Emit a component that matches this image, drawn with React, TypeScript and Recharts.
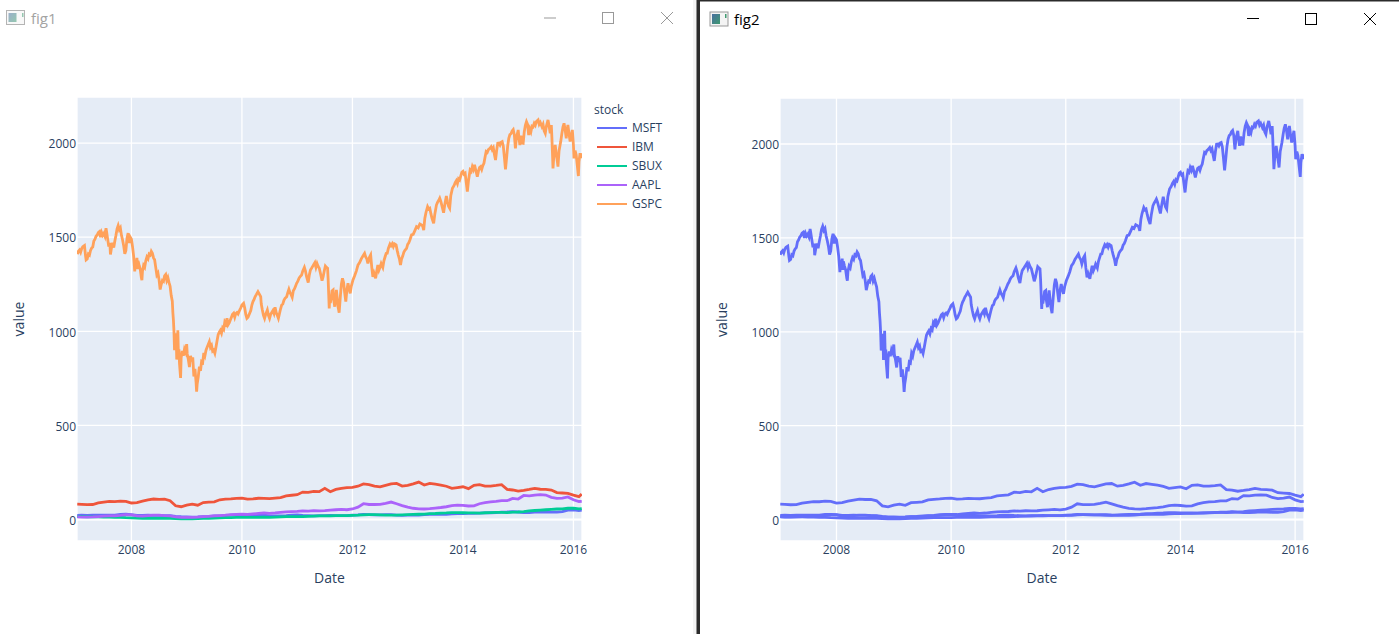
import { CartesianGrid, Legend, Line, LineChart, ReferenceLine, XAxis, YAxis } from "recharts";

const FONT = '"Open Sans", sans-serif';
const INK = "#2a3f5f";

const seriesNames = ["MSFT", "IBM", "SBUX", "AAPL", "GSPC"];
const plotlyColors = ["#636efa", "#EF553B", "#00cc96", "#ab63fa", "#FFA15A"];
const plainColors = ["#636efa", "#636efa", "#636efa", "#636efa", "#636efa"];
const xTicks = [2008, 2010, 2012, 2014, 2016];
const yTicks = [0, 500, 1000, 1500, 2000];

const lowDates = [
  2007.02, 2007.1, 2007.2, 2007.3, 2007.4, 2007.5, 2007.6, 2007.7, 2007.8, 2007.9,
  2008.0, 2008.1, 2008.2, 2008.3, 2008.4, 2008.5, 2008.6, 2008.7, 2008.8, 2008.9,
  2009.0, 2009.1, 2009.2, 2009.3, 2009.4, 2009.5, 2009.6, 2009.7, 2009.8, 2009.9,
  2010.0, 2010.1, 2010.2, 2010.3, 2010.4, 2010.5, 2010.6, 2010.7, 2010.8, 2010.9,
  2011.0, 2011.1, 2011.2, 2011.3, 2011.4, 2011.5, 2011.6, 2011.7, 2011.8, 2011.9,
  2012.0, 2012.1, 2012.2, 2012.3, 2012.4, 2012.5, 2012.6, 2012.7, 2012.8, 2012.9,
  2013.0, 2013.1, 2013.2, 2013.3, 2013.4, 2013.5, 2013.6, 2013.7, 2013.8, 2013.9,
  2014.0, 2014.1, 2014.2, 2014.3, 2014.4, 2014.5, 2014.6, 2014.7, 2014.8, 2014.9,
  2015.0, 2015.1, 2015.2, 2015.3, 2015.4, 2015.5, 2015.6, 2015.7, 2015.8, 2015.9,
  2016.0, 2016.1, 2016.15,
];

const msft = [
  22, 23, 22, 23, 24, 24, 23, 24, 27, 28,
  26, 22, 22, 23, 22, 22, 21, 21, 17, 15,
  14, 13, 14, 16, 17, 19, 20, 21, 23, 25,
  25, 24, 24, 24, 23, 20, 20, 20, 21, 23,
  24, 22, 21, 20, 21, 21, 22, 21, 21, 21,
  24, 25, 27, 26, 25, 25, 26, 26, 24, 22,
  23, 23, 24, 26, 28, 29, 28, 28, 30, 32,
  32, 33, 33, 34, 35, 36, 37, 39, 40, 42,
  40, 37, 37, 39, 41, 40, 39, 39, 42, 50,
  52, 48, 50,
];

const ibm = [
  82, 81, 79, 80, 88, 92, 96, 95, 98, 97,
  88, 90, 98, 104, 109, 107, 108, 100, 73, 68,
  77, 82, 76, 90, 92, 94, 105, 108, 110, 113,
  114, 109, 110, 113, 112, 111, 114, 117, 126, 129,
  132, 146, 144, 150, 148, 166, 148, 160, 166, 170,
  171, 177, 189, 186, 178, 174, 182, 190, 192, 178,
  182, 190, 199, 183, 192, 188, 183, 177, 166, 170,
  174, 164, 182, 185, 178, 178, 181, 185, 160, 157,
  151, 155, 160, 166, 161, 160, 157, 143, 141, 139,
  130, 122, 135,
];

const sbux = [
  16, 15, 14, 14, 14, 13, 13, 12, 12, 10,
  9, 8, 7, 8, 7, 7, 7, 6, 5, 4,
  4, 4, 5, 6, 7, 8, 9, 10, 10, 11,
  11, 12, 12, 12, 13, 12, 13, 14, 15, 15,
  15, 16, 17, 18, 19, 20, 20, 21, 21, 21,
  22, 23, 25, 26, 26, 25, 24, 23, 23, 25,
  26, 27, 28, 29, 31, 32, 34, 35, 37, 37,
  36, 35, 35, 34, 36, 37, 38, 38, 37, 39,
  40, 42, 46, 48, 50, 52, 54, 56, 57, 60,
  60, 57, 58,
];

const aapl = [
  14, 13, 13, 14, 16, 18, 19, 19, 22, 26,
  25, 19, 18, 21, 24, 24, 21, 19, 14, 12,
  11, 12, 13, 16, 17, 19, 21, 23, 26, 27,
  28, 27, 30, 33, 35, 33, 35, 38, 41, 42,
  43, 46, 45, 47, 46, 47, 50, 52, 54, 52,
  56, 66, 84, 80, 80, 81, 86, 93, 84, 74,
  66, 60, 57, 56, 58, 61, 64, 68, 74, 77,
  75, 72, 73, 84, 90, 94, 96, 100, 100, 112,
  109, 128, 126, 130, 132, 130, 118, 112, 114, 120,
  105, 96, 97,
];

const gspcDates = [
  2007.02, 2007.04, 2007.06, 2007.08, 2007.1, 2007.12, 2007.15, 2007.17, 2007.18, 2007.2,
  2007.22, 2007.24, 2007.26, 2007.28, 2007.3, 2007.32, 2007.34, 2007.36, 2007.38, 2007.4,
  2007.42, 2007.44, 2007.46, 2007.48, 2007.5, 2007.52, 2007.54, 2007.55, 2007.57, 2007.59,
  2007.61, 2007.62, 2007.64, 2007.66, 2007.68, 2007.7, 2007.72, 2007.74, 2007.76, 2007.78,
  2007.8, 2007.82, 2007.84, 2007.86, 2007.88, 2007.9, 2007.92, 2007.94, 2007.96, 2007.98,
  2008.0, 2008.02, 2008.04, 2008.06, 2008.07, 2008.08, 2008.1, 2008.11, 2008.12, 2008.14,
  2008.16, 2008.18, 2008.19, 2008.2, 2008.22, 2008.24, 2008.26, 2008.28, 2008.3, 2008.32,
  2008.34, 2008.36, 2008.38, 2008.4, 2008.42, 2008.44, 2008.46, 2008.48, 2008.5, 2008.52,
  2008.54, 2008.56, 2008.58, 2008.6, 2008.62, 2008.64, 2008.66, 2008.68, 2008.7, 2008.72,
  2008.74, 2008.75, 2008.76, 2008.77, 2008.78, 2008.79, 2008.8, 2008.81, 2008.82, 2008.83,
  2008.84, 2008.85, 2008.86, 2008.87, 2008.89, 2008.9, 2008.92, 2008.94, 2008.96, 2008.98,
  2009.0, 2009.01, 2009.03, 2009.05, 2009.07, 2009.09, 2009.11, 2009.13, 2009.15, 2009.17,
  2009.18, 2009.19, 2009.21, 2009.23, 2009.25, 2009.27, 2009.29, 2009.31, 2009.33, 2009.35,
  2009.37, 2009.39, 2009.41, 2009.43, 2009.45, 2009.47, 2009.49, 2009.51, 2009.53, 2009.55,
  2009.57, 2009.59, 2009.61, 2009.63, 2009.65, 2009.67, 2009.69, 2009.71, 2009.73, 2009.75,
  2009.77, 2009.79, 2009.81, 2009.83, 2009.85, 2009.87, 2009.89, 2009.91, 2009.93, 2009.96,
  2009.98, 2010.0, 2010.03, 2010.05, 2010.07, 2010.09, 2010.11, 2010.14, 2010.16, 2010.18,
  2010.2, 2010.22, 2010.24, 2010.26, 2010.29, 2010.31, 2010.34, 2010.35, 2010.37, 2010.39,
  2010.41, 2010.43, 2010.46, 2010.48, 2010.5, 2010.52, 2010.54, 2010.56, 2010.58, 2010.6,
  2010.62, 2010.64, 2010.66, 2010.68, 2010.7, 2010.72, 2010.74, 2010.76, 2010.78, 2010.81,
  2010.83, 2010.85, 2010.87, 2010.89, 2010.91, 2010.93, 2010.95, 2010.97, 2010.99, 2011.01,
  2011.03, 2011.05, 2011.08, 2011.1, 2011.13, 2011.15, 2011.17, 2011.2, 2011.22, 2011.24,
  2011.26, 2011.28, 2011.3, 2011.32, 2011.34, 2011.36, 2011.38, 2011.4, 2011.42, 2011.45,
  2011.47, 2011.49, 2011.51, 2011.53, 2011.55, 2011.56, 2011.57, 2011.58, 2011.59, 2011.6,
  2011.62, 2011.63, 2011.65, 2011.66, 2011.68, 2011.7, 2011.71, 2011.73, 2011.74, 2011.76,
  2011.78, 2011.8, 2011.82, 2011.84, 2011.86, 2011.88, 2011.9, 2011.92, 2011.94, 2011.96,
  2011.98, 2012.01, 2012.04, 2012.07, 2012.1, 2012.13, 2012.16, 2012.19, 2012.22, 2012.24,
  2012.26, 2012.28, 2012.31, 2012.33, 2012.35, 2012.37, 2012.39, 2012.42, 2012.44, 2012.46,
  2012.48, 2012.5, 2012.52, 2012.55, 2012.57, 2012.59, 2012.61, 2012.63, 2012.65, 2012.68,
  2012.7, 2012.72, 2012.74, 2012.76, 2012.79, 2012.81, 2012.83, 2012.85, 2012.87, 2012.89,
  2012.91, 2012.93, 2012.95, 2012.98, 2013.0, 2013.02, 2013.04, 2013.07, 2013.1, 2013.13,
  2013.16, 2013.19, 2013.22, 2013.25, 2013.27, 2013.29, 2013.31, 2013.33, 2013.36, 2013.38,
  2013.4, 2013.42, 2013.44, 2013.47, 2013.49, 2013.52, 2013.54, 2013.56, 2013.58, 2013.6,
  2013.63, 2013.65, 2013.67, 2013.7, 2013.72, 2013.74, 2013.76, 2013.78, 2013.81, 2013.84,
  2013.86, 2013.88, 2013.9, 2013.92, 2013.94, 2013.96, 2013.98, 2014.0, 2014.02, 2014.04,
  2014.06, 2014.08, 2014.1, 2014.13, 2014.15, 2014.17, 2014.19, 2014.21, 2014.23, 2014.26,
  2014.28, 2014.3, 2014.32, 2014.34, 2014.36, 2014.38, 2014.4, 2014.42, 2014.44, 2014.46,
  2014.48, 2014.51, 2014.53, 2014.55, 2014.57, 2014.59, 2014.61, 2014.63, 2014.65, 2014.67,
  2014.69, 2014.71, 2014.73, 2014.75, 2014.77, 2014.79, 2014.81, 2014.83, 2014.85, 2014.87,
  2014.89, 2014.91, 2014.93, 2014.95, 2014.97, 2015.0, 2015.01, 2015.03, 2015.05, 2015.07,
  2015.09, 2015.11, 2015.13, 2015.15, 2015.17, 2015.19, 2015.21, 2015.23, 2015.25, 2015.27,
  2015.29, 2015.31, 2015.33, 2015.36, 2015.38, 2015.4, 2015.43, 2015.45, 2015.47, 2015.49,
  2015.51, 2015.54, 2015.56, 2015.58, 2015.6, 2015.61, 2015.62, 2015.63, 2015.65, 2015.67,
  2015.69, 2015.71, 2015.72, 2015.74, 2015.77, 2015.79, 2015.81, 2015.83, 2015.85, 2015.87,
  2015.88, 2015.9, 2015.92, 2015.94, 2015.96, 2015.98, 2016.0, 2016.01, 2016.03, 2016.05,
  2016.07, 2016.09, 2016.1, 2016.12, 2016.14, 2016.15,
];

const gspc = [
  1410, 1425, 1432, 1420, 1440, 1450, 1456, 1400, 1380, 1385,
  1410, 1405, 1430, 1442, 1448, 1480, 1490, 1505, 1512, 1525,
  1530, 1500, 1525, 1510, 1520, 1505, 1548, 1530, 1490, 1450,
  1470, 1408, 1445, 1470, 1445, 1480, 1510, 1545, 1562, 1540,
  1550, 1510, 1485, 1455, 1412, 1430, 1495, 1522, 1470, 1500,
  1490, 1450, 1400, 1318, 1380, 1340, 1390, 1330, 1375, 1350,
  1330, 1285, 1272, 1320, 1350, 1340, 1375, 1395, 1385, 1410,
  1405, 1425, 1415, 1390, 1380, 1340, 1300, 1310, 1275, 1222,
  1250, 1270, 1265, 1295, 1302, 1270, 1285, 1260, 1240, 1190,
  1160, 1100, 1060, 1000, 900, 985, 905, 990, 850, 900,
  1005, 880, 905, 830, 752, 860, 895, 870, 905, 890,
  932, 880, 850, 810, 870, 840, 862, 760, 800, 730,
  680, 720, 760, 812, 790, 840, 835, 885, 870, 900,
  915, 930, 945, 915, 925, 895, 900, 884, 915, 950,
  982, 995, 1005, 990, 1018, 1010, 1050, 1040, 1070, 1035,
  1045, 1060, 1075, 1090, 1096, 1075, 1095, 1100, 1092, 1113,
  1125, 1140, 1149, 1125, 1090, 1069, 1075, 1096, 1110, 1140,
  1158, 1170, 1185, 1195, 1211, 1200, 1184, 1145, 1113, 1085,
  1069, 1090, 1113, 1085, 1069, 1090, 1100, 1110, 1095, 1128,
  1100, 1085, 1069, 1095, 1120, 1140, 1145, 1165, 1175, 1184,
  1205, 1223, 1205, 1195, 1181, 1215, 1225, 1240, 1255, 1265,
  1280, 1290, 1299, 1320, 1340, 1320, 1290, 1259, 1300, 1326,
  1335, 1345, 1355, 1365, 1340, 1360, 1345, 1335, 1310, 1269,
  1290, 1320, 1347, 1340, 1335, 1280, 1200, 1122, 1190, 1150,
  1190, 1215, 1220, 1170, 1131, 1190, 1220, 1160, 1130, 1099,
  1180, 1250, 1282, 1260, 1205, 1158, 1220, 1255, 1225, 1202,
  1240, 1273, 1295, 1320, 1352, 1365, 1385, 1400, 1414, 1395,
  1385, 1361, 1395, 1406, 1340, 1290, 1310, 1282, 1320, 1352,
  1325, 1340, 1360, 1340, 1375, 1395, 1414, 1415, 1440, 1464,
  1455, 1465, 1450, 1465, 1459, 1430, 1405, 1385, 1352, 1385,
  1400, 1420, 1430, 1441, 1462, 1470, 1485, 1512, 1515, 1535,
  1556, 1550, 1570, 1565, 1560, 1538, 1600, 1630, 1662, 1650,
  1654, 1625, 1600, 1574, 1620, 1671, 1685, 1695, 1707, 1690,
  1655, 1630, 1670, 1719, 1690, 1665, 1654, 1720, 1760, 1775,
  1790, 1800, 1785, 1810, 1804, 1825, 1845, 1850, 1835, 1840,
  1790, 1742, 1800, 1857, 1850, 1875, 1860, 1884, 1860, 1822,
  1850, 1870, 1875, 1860, 1880, 1893, 1925, 1955, 1950, 1965,
  1970, 1981, 1965, 1975, 1940, 1910, 1960, 1999, 2000, 1990,
  2005, 2008, 1985, 1925, 1860, 1920, 1985, 2025, 2045, 2050,
  2065, 2072, 2045, 1972, 2030, 2070, 2040, 1990, 2040, 2000,
  1999, 2060, 2095, 2114, 2100, 2043, 2075, 2060, 2090, 2087,
  2105, 2095, 2115, 2123, 2100, 2110, 2087, 2100, 2065, 2052,
  2090, 2123, 2090, 2052, 2096, 2030, 1950, 1866, 1950, 1990,
  1940, 1900, 1875, 1960, 2008, 2050, 2085, 2105, 2070, 2025,
  2060, 2096, 2050, 2008, 2040, 2070, 1990, 1919, 1960, 1937,
  1880, 1825, 1900, 1946, 1920, 1946,
];

const lowTable = lowDates.map((date, i) => ({
  date,
  MSFT: msft[i],
  IBM: ibm[i],
  SBUX: sbux[i],
  AAPL: aapl[i],
}));
const gspcTable = gspcDates.map((date, i) => ({ date, GSPC: gspc[i] }));

const StockLegend = ({ payload }: any) => (
  <div style={{ fontFamily: FONT, fontSize: 12, color: INK, position: "relative" }}>
    <div style={{ position: "absolute", left: 12, top: 4, lineHeight: "18px" }}>stock</div>
    {(payload || []).map((item: any, i: number) => (
      <div key={item.value} style={{ position: "absolute", top: 22 + i * 19, left: 15, width: 90, height: 18 }}>
        <div style={{ position: "absolute", left: 0, top: 8, width: 30, height: 2, background: item.color }} />
        <div style={{ position: "absolute", left: 35, top: 0, lineHeight: "18px" }}>{item.value}</div>
      </div>
    ))}
  </div>
);

const StockChart = ({ left, top, width, plotLeft, plotRight, colors, legend }: any) => (
  <div style={{ position: "absolute", left, top }}>
    <LineChart
      width={width}
      height={634 - top}
      data={lowTable}
      margin={{ top: 97, right: legend ? 0 : width - plotRight, bottom: 0, left: 0 }}
    >
      <CartesianGrid fill="#E5ECF6" stroke="#fff" strokeWidth={1.3} />
      <XAxis
        dataKey="date"
        type="number"
        domain={[2007.015, 2016.155]}
        ticks={xTicks}
        allowDataOverflow
        axisLine={false}
        tickLine={false}
        tickSize={0}
        tickMargin={4}
        height={93}
        tick={{ fontFamily: FONT, fontSize: 12, fill: INK }}
        label={{ value: "Date", position: "insideTop", offset: 32, fontFamily: FONT, fontSize: 14, fill: INK }}
      />
      <YAxis
        type="number"
        domain={[-114, 2245]}
        ticks={yTicks}
        allowDataOverflow
        axisLine={false}
        tickLine={false}
        tickSize={0}
        tickMargin={1}
        width={plotLeft}
        tick={{ fontFamily: FONT, fontSize: 12, fill: INK, dy: 1 }}
        label={{
          value: "value",
          angle: -90,
          position: "insideLeft",
          offset: plotLeft - 57.5,
          textAnchor: "middle",
          fontFamily: FONT,
          fontSize: 14,
          fill: INK,
        }}
      />
      <ReferenceLine y={0} stroke="#fff" strokeWidth={2} />
      {legend && (
        <Legend
          layout="vertical"
          align="right"
          verticalAlign="top"
          width={width - plotRight}
          itemSorter={null}
          content={<StockLegend />}
          wrapperStyle={{ top: 97 }}
        />
      )}
      <Line dataKey="MSFT" name={seriesNames[0]} stroke={colors[0]} strokeWidth={2.8} dot={false} isAnimationActive={false} />
      <Line dataKey="IBM" name={seriesNames[1]} stroke={colors[1]} strokeWidth={2.8} dot={false} isAnimationActive={false} />
      <Line dataKey="SBUX" name={seriesNames[2]} stroke={colors[2]} strokeWidth={2.8} dot={false} isAnimationActive={false} />
      <Line dataKey="AAPL" name={seriesNames[3]} stroke={colors[3]} strokeWidth={2.8} dot={false} isAnimationActive={false} />
      <Line data={gspcTable} dataKey="GSPC" name={seriesNames[4]} stroke={colors[4]} strokeWidth={2.8} dot={false} isAnimationActive={false} />
    </LineChart>
  </div>
);

// window title bars and the dark border of the front window
const WindowChrome = () => (
  <svg width={1399} height={634} style={{ position: "absolute", left: 0, top: 0 }}>
    <defs>
      <linearGradient id="icon" x1="0" y1="0" x2="1" y2="1">
        <stop offset="0" stopColor="#4a6fa0" />
        <stop offset="1" stopColor="#3f9a70" />
      </linearGradient>
    </defs>
    <rect x={693} y={0} width={4} height={634} fill="#f3f3f3" />
    <rect x={696.5} y={0} width={3.5} height={634} fill="#2b2b2b" />
    <rect x={697} y={0} width={702} height={1.5} fill="#2b2b2b" />

    <g opacity={0.55}>
      <rect x={6.5} y={10.5} width={18} height={14} fill="#f4f4f4" stroke="#777" />
      <rect x={8.5} y={13} width={8} height={9} fill="url(#icon)" />
      <rect x={22} y={13} width={1.5} height={4} fill="#3f9a70" />
    </g>
    <text x={31} y={24} fontFamily={FONT} fontSize={15} fill="#a3a3a3">fig1</text>
    <line x1={544} y1={18} x2={556} y2={18} stroke="#999" />
    <rect x={602.5} y={12.5} width={11} height={11} fill="none" stroke="#999" />
    <line x1={661} y1={12} x2={673} y2={24} stroke="#999" />
    <line x1={673} y1={12} x2={661} y2={24} stroke="#999" />

    <rect x={710} y={12} width={18} height={14} fill="#f4f4f4" stroke="#999" />
    <rect x={712} y={14} width={8} height={10} fill="url(#icon)" />
    <rect x={725} y={14} width={1.5} height={4} fill="#3f9a70" />
    <text x={734} y={25} fontFamily={FONT} fontSize={15} fill="#000">fig2</text>
    <line x1={1247} y1={18.5} x2={1259} y2={18.5} stroke="#000" />
    <rect x={1305.5} y={13.5} width={11} height={11} fill="none" stroke="#000" />
    <line x1={1364} y1={13} x2={1376} y2={25} stroke="#000" />
    <line x1={1376} y1={13} x2={1364} y2={25} stroke="#000" />
  </svg>
);

const App = () => (
  <div style={{ position: "absolute", left: 0, top: 0, width: 1399, height: 634, overflow: "hidden", background: "#fff" }}>
    <WindowChrome />
    <StockChart left={0} top={0} width={690} plotLeft={77} plotRight={582} colors={plotlyColors} legend />
    <StockChart left={700} top={1} width={699} plotLeft={80} plotRight={604} colors={plainColors} />
  </div>
);

export default App;
